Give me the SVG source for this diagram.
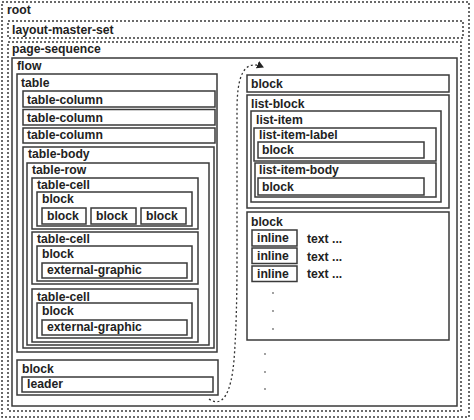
<svg xmlns="http://www.w3.org/2000/svg" width="474" height="420" viewBox="0 0 474 420">
<style>
text{font-family:"Liberation Sans",Arial,sans-serif;font-weight:bold;font-size:12.2px;fill:#222}
.b{fill:none;stroke:#3a3a3a;stroke-width:1.5}
.d{fill:none;stroke:#3a3a3a;stroke-width:1.5;stroke-dasharray:2,2}
.dot{fill:#777}
</style>
<defs>
<marker id="ah" markerWidth="8" markerHeight="8" refX="6" refY="4" orient="auto" markerUnits="userSpaceOnUse">
<path d="M0,0 L7,4 L0,8 Z" fill="#222"/>
</marker>
</defs>
<rect width="474" height="420" fill="#fff"/>
<g id="root"><rect class="d" x="2" y="2" width="467" height="415"/><text x="7" y="14">root</text></g>
<g id="layout-master-set"><rect class="d" x="8" y="21" width="455" height="17"/><text x="12" y="34">layout-master-set</text></g>
<g id="page-sequence"><rect class="d" x="8" y="42" width="453" height="369"/><text x="12" y="53">page-sequence</text></g>
<g id="flow"><rect class="b" x="12" y="58" width="445" height="348"/><text x="17" y="70">flow</text></g>
<g id="table"><rect class="b" x="17" y="74" width="200" height="278"/><text x="21" y="87">table</text></g>
<g id="table-column-1"><rect class="b" x="23" y="91" width="192" height="16"/><text x="27" y="104">table-column</text></g>
<g id="table-column-2"><rect class="b" x="23" y="109.5" width="192" height="15.5"/><text x="27" y="121.5">table-column</text></g>
<g id="table-column-3"><rect class="b" x="23" y="128" width="192" height="15"/><text x="27" y="139">table-column</text></g>
<g id="table-body"><rect class="b" x="23" y="147" width="191" height="201"/><text x="28" y="158">table-body</text></g>
<g id="table-row"><rect class="b" x="27" y="163" width="182" height="182"/><text x="32" y="174">table-row</text></g>
<g id="table-cell-1"><rect class="b" x="32" y="178" width="166" height="51"/><text x="37" y="189">table-cell</text></g>
<g id="block-c1"><rect class="b" x="37" y="192" width="155" height="34"/><text x="42" y="203">block</text></g>
<g id="block-c1a"><rect class="b" x="42" y="208" width="44" height="16"/><text x="47" y="220">block</text></g>
<g id="block-c1b"><rect class="b" x="91" y="208" width="45" height="16"/><text x="96" y="220">block</text></g>
<g id="block-c1c"><rect class="b" x="141" y="208" width="45" height="16"/><text x="146" y="220">block</text></g>
<g id="table-cell-2"><rect class="b" x="32" y="232" width="166" height="52"/><text x="37" y="243">table-cell</text></g>
<g id="block-c2"><rect class="b" x="37" y="246" width="155" height="35"/><text x="42" y="258">block</text></g>
<g id="external-graphic-1"><rect class="b" x="42" y="263" width="145" height="15"/><text x="47" y="274">external-graphic</text></g>
<g id="table-cell-3"><rect class="b" x="32" y="289" width="166" height="53"/><text x="37" y="301">table-cell</text></g>
<g id="block-c3"><rect class="b" x="37" y="303" width="155" height="35"/><text x="42" y="315">block</text></g>
<g id="external-graphic-2"><rect class="b" x="42" y="320" width="145" height="15"/><text x="47" y="331">external-graphic</text></g>
<g id="block-leader"><rect class="b" x="17" y="360" width="201" height="35"/><text x="22" y="373">block</text></g>
<g id="leader"><rect class="b" x="22" y="377" width="191" height="15"/><text x="27" y="388">leader</text></g>
<g id="block-top"><rect class="b" x="247" y="75" width="202" height="17"/><text x="251" y="88">block</text></g>
<g id="list-block"><rect class="b" x="247" y="95" width="202" height="113"/><text x="251" y="108">list-block</text></g>
<g id="list-item"><rect class="b" x="251" y="111" width="190" height="91"/><text x="256" y="124">list-item</text></g>
<g id="list-item-label"><rect class="b" x="254" y="128" width="182" height="33"/><text x="259" y="139">list-item-label</text></g>
<g id="block-label"><rect class="b" x="258" y="142" width="166" height="16"/><text x="262" y="154">block</text></g>
<g id="list-item-body"><rect class="b" x="255" y="163" width="181" height="34"/><text x="259" y="174">list-item-body</text></g>
<g id="block-body"><rect class="b" x="258" y="178" width="166" height="17"/><text x="262" y="191">block</text></g>
<g id="block-inline"><rect class="b" x="247" y="212" width="202" height="128"/><text x="251" y="226">block</text></g>
<g id="inline-1"><rect class="b" x="252" y="230" width="45" height="16"/><text x="257" y="242">inline</text><text x="307" y="243">text ...</text></g>
<g id="inline-2"><rect class="b" x="252" y="248" width="45" height="15.5"/><text x="257" y="259.5">inline</text><text x="307" y="261">text ...</text></g>
<g id="inline-3"><rect class="b" x="252" y="266" width="45" height="15.5"/><text x="257" y="277.5">inline</text><text x="307" y="278">text ...</text></g>
<g id="ellipsis">
<circle class="dot" cx="273" cy="293" r="0.9"/><circle class="dot" cx="273" cy="311" r="0.9"/><circle class="dot" cx="273" cy="329" r="0.9"/>
<circle class="dot" cx="265" cy="354" r="0.9"/><circle class="dot" cx="265" cy="372" r="0.9"/><circle class="dot" cx="265" cy="389" r="0.9"/>
</g>
<g id="connectors">
<path d="M209,399 C222,408 231,395 234,360 C236,335 237,300 237,260 L237,110 C237,80 242,58 263,67" fill="none" stroke="#333" stroke-width="1.3" stroke-dasharray="2,2.5" marker-end="url(#ah)"/>
</g>
</svg>
